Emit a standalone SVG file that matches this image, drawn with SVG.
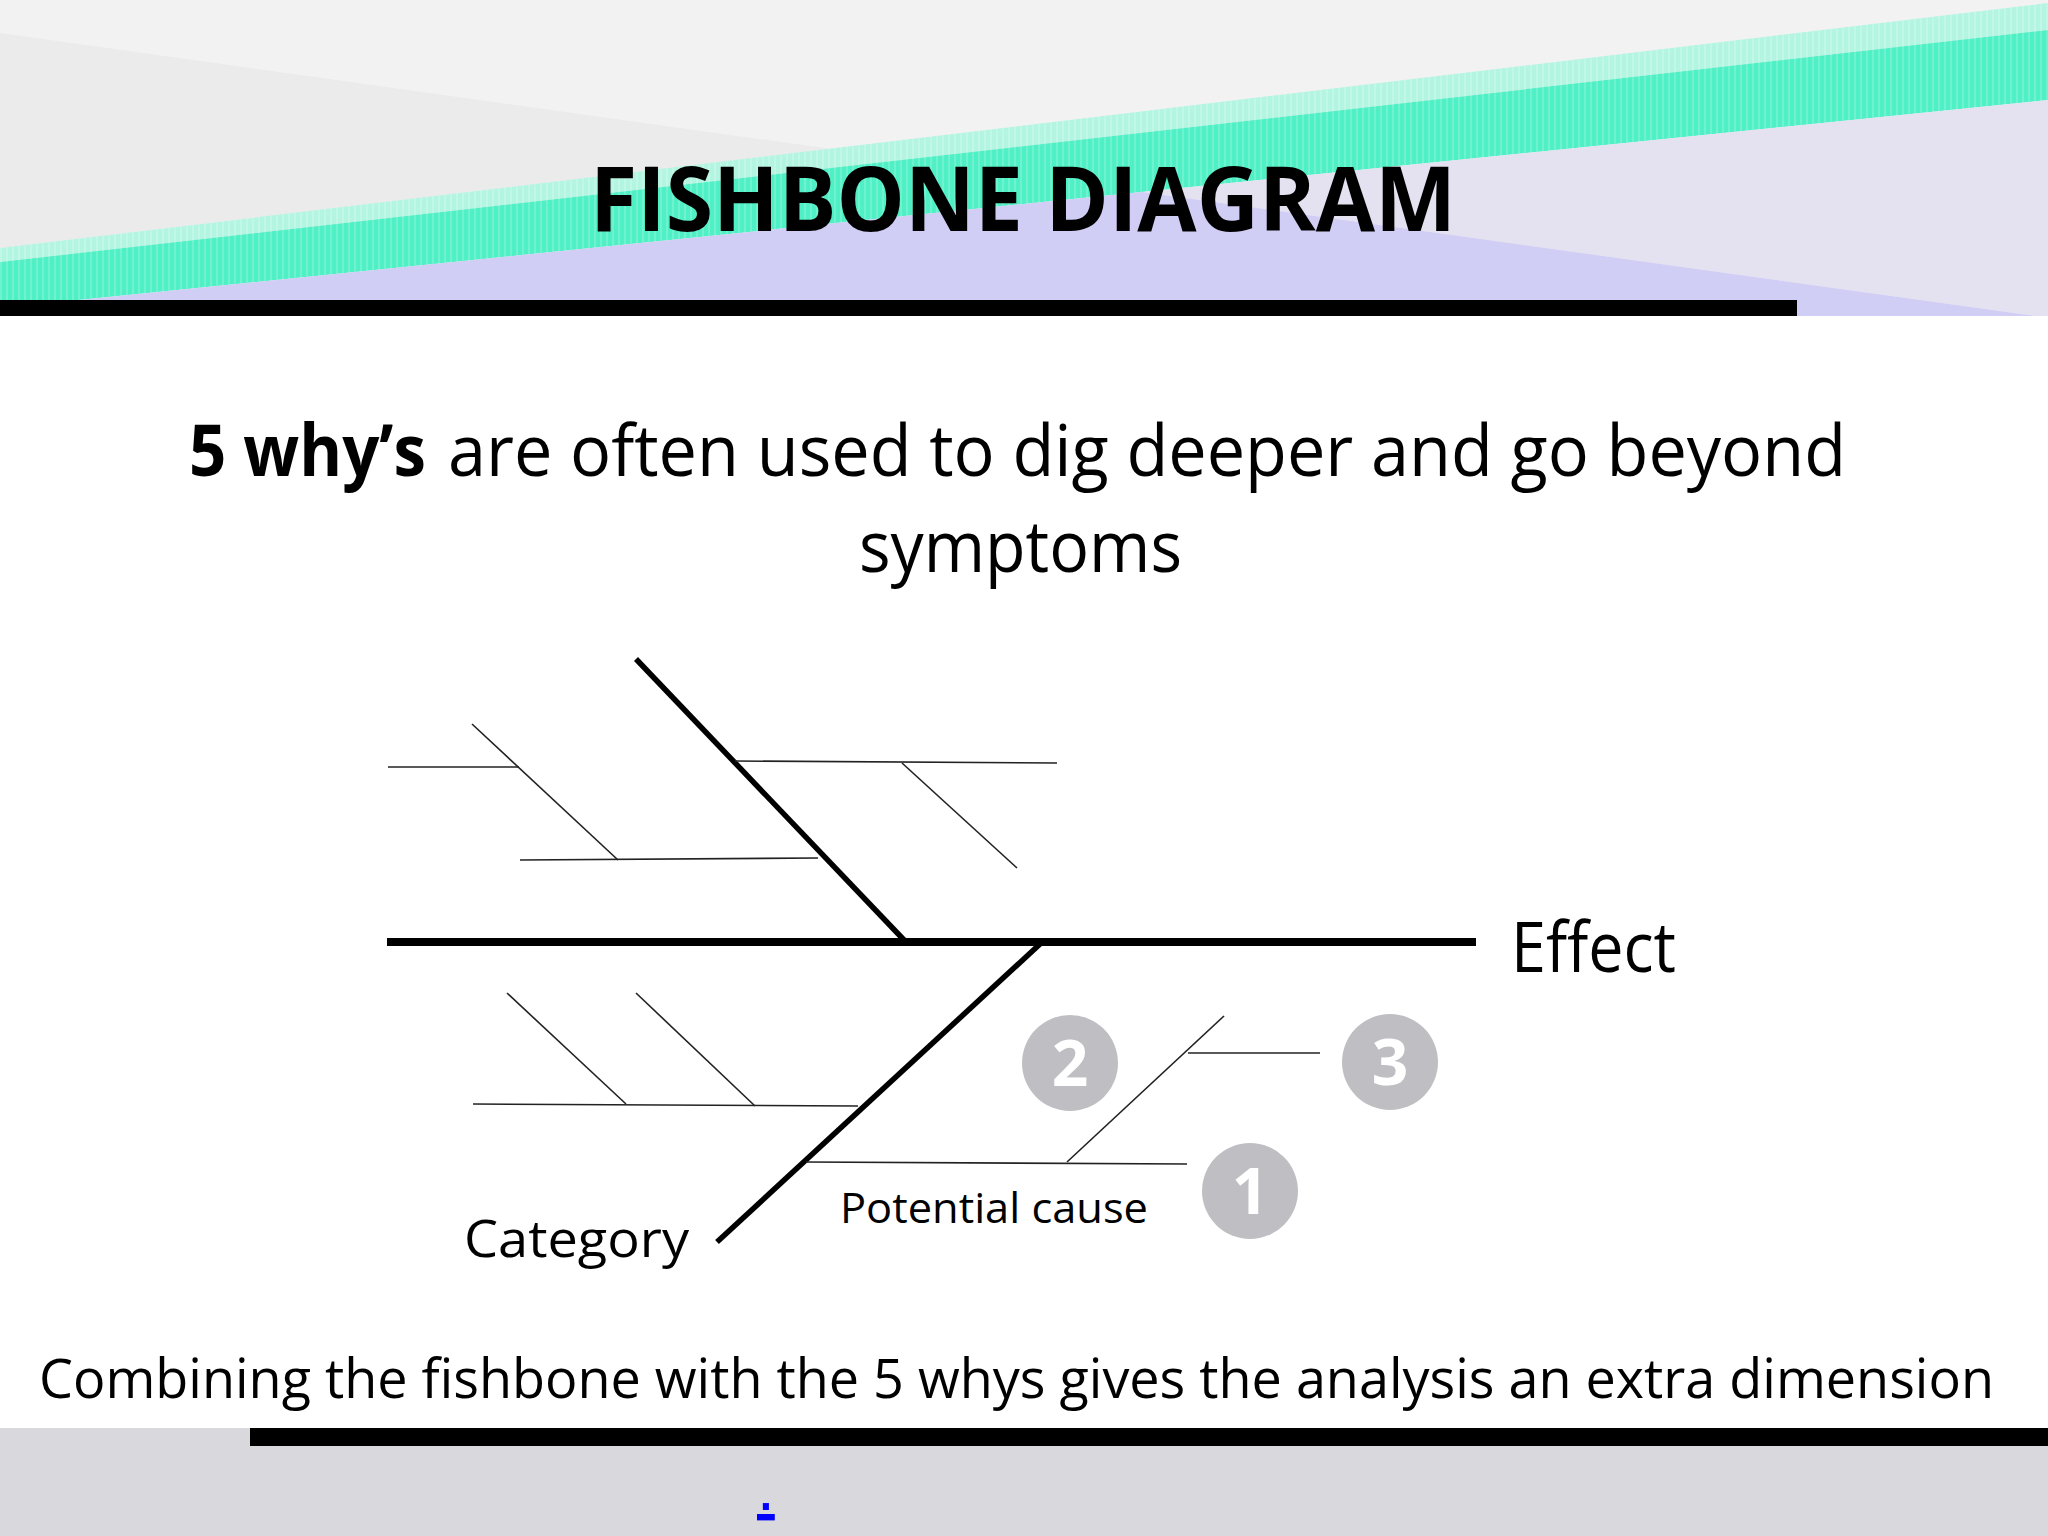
<svg xmlns="http://www.w3.org/2000/svg" width="2048" height="1536" viewBox="0 0 2048 1536">
<style>
.t{font-family:"Open Sans","Liberation Sans",sans-serif;fill:#000}
.b{font-weight:700}
.thin{stroke:#222;stroke-width:1.6;fill:none;stroke-linecap:butt}
.thick{stroke:#000;fill:none;stroke-linecap:butt}
.num{font-family:"Open Sans","Liberation Sans",sans-serif;font-weight:700;fill:#fff;font-size:64px;text-anchor:middle}
.circ{fill:#bfbec3}
</style>
<defs>
<pattern id="stripes" width="6" height="10" patternUnits="userSpaceOnUse">
<rect x="0" y="0" width="2" height="10" fill="#ffffff" opacity="0.18"/>
</pattern>
</defs>
<rect x="0" y="0" width="2048" height="1536" fill="#ffffff"/>
<g id="header">
<rect x="0" y="0" width="2048" height="316" fill="#f2f2f2"/>
<polygon points="0,33 831,149 0,248" fill="#ebebeb"/>
<polygon points="0,248 2048,3 2048,30 0,262" fill="#b3f5e1"/>
<polygon points="0,262 2048,30 2048,100 0,308" fill="#4ff0c5"/>
<polygon points="0,248 2048,3 2048,100 0,308" fill="url(#stripes)"/>
<polygon points="1142,192 2048,100 2048,316 2036,316" fill="#e4e2f0"/>
<polygon points="0,308 1142,192 2036,316 0,316" fill="#d1cef5"/>
<rect x="0" y="300" width="1797" height="16" fill="#000"/>
</g>
<text id="title" class="t b" x="590" y="231" font-size="90" textLength="866" lengthAdjust="spacingAndGlyphs">FISHBONE DIAGRAM</text>
<g id="subtitle">
<text class="t b" x="189" y="476" font-size="72" textLength="237" lengthAdjust="spacingAndGlyphs">5 why’s</text>
<text class="t" x="448" y="476" font-size="72" textLength="1398" lengthAdjust="spacingAndGlyphs">are often used to dig deeper and go beyond</text>
<text class="t" x="859" y="572" font-size="72" textLength="323" lengthAdjust="spacingAndGlyphs">symptoms</text>
</g>
<g id="connectors">
<line class="thick" stroke-width="8" x1="387" y1="942" x2="1476" y2="942"/>
<line class="thick" stroke-width="5.5" x1="636" y1="659" x2="904" y2="940"/>
<line class="thick" stroke-width="5.5" x1="1040" y1="944" x2="717" y2="1242"/>
<line class="thin" x1="388" y1="767" x2="519" y2="767"/>
<line class="thin" x1="472" y1="724" x2="618" y2="860"/>
<line class="thin" x1="520" y1="860" x2="818" y2="858"/>
<line class="thin" x1="735" y1="761" x2="1057" y2="763"/>
<line class="thin" x1="902" y1="763" x2="1017" y2="868"/>
<line class="thin" x1="473" y1="1104" x2="858" y2="1106"/>
<line class="thin" x1="507" y1="993" x2="626" y2="1104"/>
<line class="thin" x1="636" y1="993" x2="755" y2="1106"/>
<line class="thin" x1="806" y1="1162" x2="1187" y2="1164"/>
<line class="thin" x1="1067" y1="1162" x2="1224" y2="1016"/>
<line class="thin" x1="1188" y1="1053" x2="1320" y2="1053"/>
</g>
<text id="effect" class="t" x="1511" y="972" font-size="70" textLength="165" lengthAdjust="spacingAndGlyphs">Effect</text>
<text id="category" class="t" x="464" y="1257" font-size="52" textLength="225" lengthAdjust="spacingAndGlyphs">Category</text>
<text id="potential-cause" class="t" x="840" y="1223" font-size="42" textLength="308" lengthAdjust="spacingAndGlyphs">Potential cause</text>
<g id="step2"><circle class="circ" cx="1070" cy="1063" r="48"/><text class="num" x="1070" y="1086">2</text></g>
<g id="step3"><circle class="circ" cx="1390" cy="1062" r="48"/><text class="num" x="1390" y="1085">3</text></g>
<g id="step1"><circle class="circ" cx="1250" cy="1191" r="48"/><text class="num" x="1250" y="1214">1</text></g>
<text id="caption" class="t" x="39" y="1398" font-size="54" textLength="1955" lengthAdjust="spacingAndGlyphs">Combining the fishbone with the 5 whys gives the analysis an extra dimension</text>
<g id="footer">
<rect x="0" y="1428" width="2048" height="108" fill="#d9d8dc"/>
<rect x="250" y="1428" width="1798" height="18" fill="#000"/>
<text x="757" y="1510" font-family="Liberation Sans, sans-serif" font-size="64" fill="#0000ff" text-decoration="underline">.</text>
</g>
</svg>
